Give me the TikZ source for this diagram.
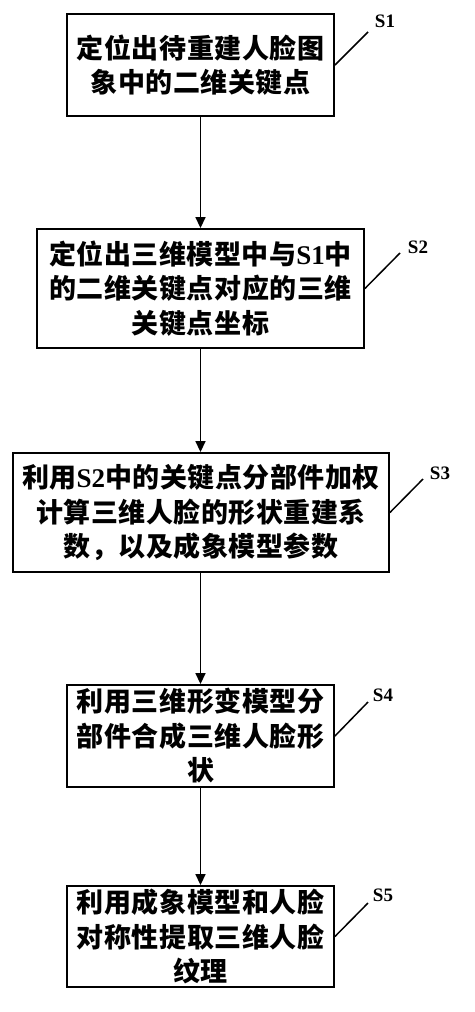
\documentclass[tikz,border=0pt]{standalone}
\usepackage{fontspec}
\setmainfont{Liberation Serif}
\newfontfamily\cjk[LetterSpace=2]{Noto Sans CJK SC}
\usetikzlibrary{arrows.meta}
\newcommand{\lat}[1]{{\rmfamily\bfseries #1}}
\begin{document}
\begin{tikzpicture}[x=1pt,y=-1pt,
  stepbox/.style={draw,line width=1.9pt,inner sep=0pt,align=center,
    font=\cjk\bfseries\fontsize{27}{34.5}\selectfont},
  lbl/.style={inner sep=0pt,font=\rmfamily\bfseries\fontsize{19}{19}\selectfont},
  flow/.style={line width=1.7pt,-{Triangle[length=11pt,width=10pt]}},
  lead/.style={line width=1.5pt}]
\useasboundingbox (0,0) rectangle (474,1012);
\node[stepbox,minimum width=267pt,minimum height=102pt] (b1) at (200.5,65)
  {定位出待重建人脸图\\象中的二维关键点};
\node[stepbox,minimum width=327pt,minimum height=119pt] (b2) at (200.5,288.5)
  {定位出三维模型中与\lat{S1}中\\的二维关键点对应的三维\\关键点坐标};
\node[stepbox,minimum width=376pt,minimum height=119pt] (b3) at (201,512.5)
  {利用\lat{S2}中的关键点分部件加权\\计算三维人脸的形状重建系\\数，以及成象模型参数};
\node[stepbox,minimum width=267pt,minimum height=102pt] (b4) at (200.5,736)
  {利用三维形变模型分\\部件合成三维人脸形\\状};
\node[stepbox,minimum width=267pt,minimum height=101pt] (b5) at (200.5,936.5)
  {利用成象模型和人脸\\对称性提取三维人脸\\纹理};
\node[lbl] (l1) at (385,21) {S1};
\node[lbl] (l2) at (418,247) {S2};
\node[lbl] (l3) at (440,473) {S3};
\node[lbl] (l4) at (383,695) {S4};
\node[lbl] (l5) at (383,895) {S5};
\coordinate (c1) at (368,32);
\coordinate (c2) at (400,253);
\coordinate (c3) at (423,479);
\coordinate (c4) at (368,702);
\coordinate (c5) at (368,903);
\draw[lead] (b1.east) -- (c1);
\draw[lead] (b2.east) -- (c2);
\draw[lead] (b3.east) -- (c3);
\draw[lead] (b4.east) -- (c4);
\draw[lead] (b5.east) -- (c5);
\draw[flow] (b1.south) -- (b1.south |- b2.north);
\draw[flow] (b2.south) -- (b2.south |- b3.north);
\draw[flow] (b3.south -| b2.south) -- (b2.south |- b4.north);
\draw[flow] (b4.south) -- (b5.north);
\end{tikzpicture}
\end{document}
